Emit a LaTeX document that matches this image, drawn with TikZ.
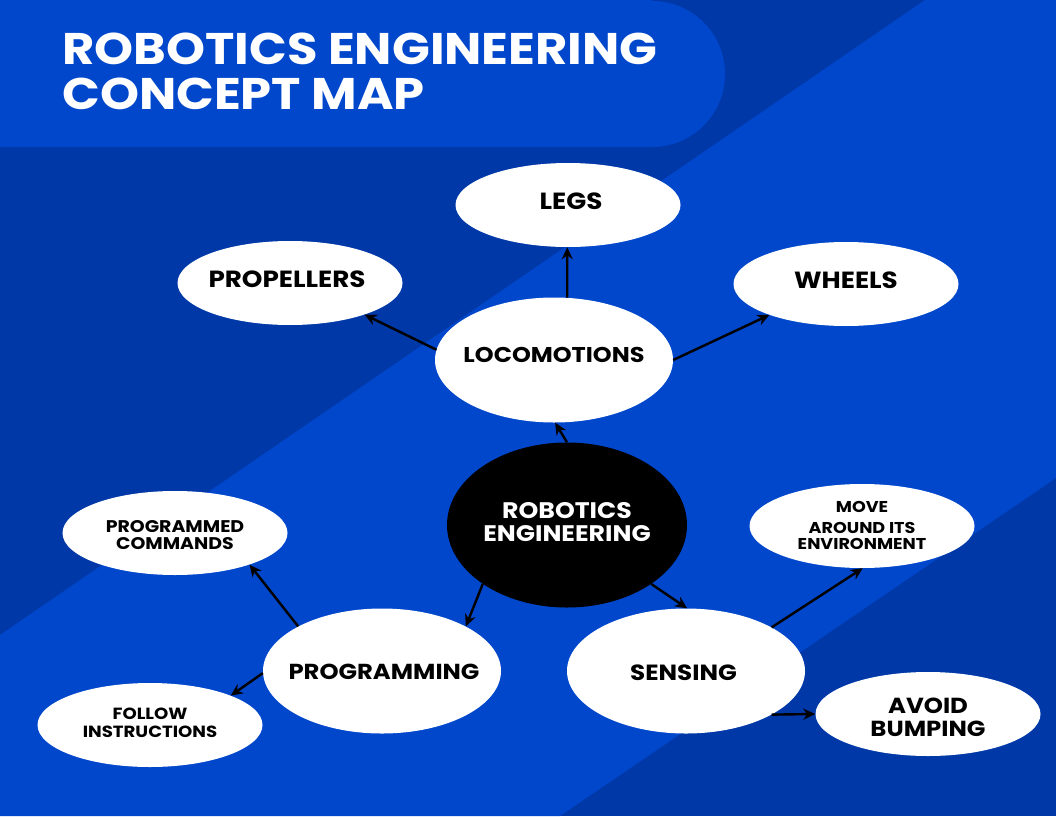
\documentclass[tikz,border=0pt]{standalone}
\usepackage{fontspec}
\setmainfont{Poppins}[FakeStretch=1.12]
\usetikzlibrary{arrows.meta,shapes.geometric}
\definecolor{bgdark}{RGB}{0,56,168}
\definecolor{bgbright}{RGB}{0,71,204}
\newcommand\nt[3]{\makebox[0pt]{\fontsize{#1}{#2}\selectfont\bfseries\begin{tabular}{@{}c@{}}#3\end{tabular}}}
\newcommand\lift[2]{\raisebox{#1}[\height][\depth]{#2}}
\begin{document}
\begin{tikzpicture}[x=1pt,y=-1pt,
  bub/.style={ellipse,fill=white,inner sep=0pt,minimum width=225pt,minimum height=84pt,text=black},
  bigbub/.style={bub,minimum width=238pt,minimum height=125pt},
  arr/.style={line width=2.4pt,draw=black,-{Stealth[length=12pt,width=11pt]}},
  ttl/.style={anchor=base west,inner sep=0pt,text=white,font=\fontsize{44.3}{44}\selectfont\bfseries}]
\clip (0,0) rectangle (1056,816);
\fill[bgdark] (0,0) rectangle (1056,816);
\fill[bgbright] (0,635) -- (925,0) -- (1056,0) -- (1056,478) -- (560,816) -- (0,816) -- cycle;
\fill[bgbright] (-5,-80) -- (652,-80) -- (652,1) arc[start angle=-90,end angle=90,radius=73] -- (-5,147) -- cycle;
\node[ttl] (t1) at (62,64) {ROBOTICS ENGINEERING};
\node[ttl] (t2) at (62,109) {CONCEPT MAP};
\node[bub] (legs) at (568,205) {\nt{23.4}{24}{\hspace*{6pt}LEGS}};
\node[bub] (prop) at (290,283) {\nt{23.4}{24}{PROPELLERS\hspace*{6pt}}};
\node[bub] (wheels) at (846,284) {\nt{23.4}{24}{WHEELS}};
\node[bigbub] (loco) at (554,360) {\lift{2pt}{\nt{21.4}{22}{LOCOMOTIONS}}};
\node[bub,fill=black,minimum width=240pt,minimum height=165pt] (robo) at (567,525) {\textcolor{white}{\nt{22.5}{23}{ROBOTICS\\ENGINEERING}}};
\node[bub] (pc) at (175,533) {\lift{-4.5pt}{\nt{16.9}{17}{PROGRAMMED\\COMMANDS}}};
\node[bub] (move) at (862,526) {\lift{-2pt}{\nt{15.7}{16}{MOVE\\[5pt]AROUND ITS\\ENVIRONMENT}}};
\node[bigbub] (prog) at (382,671) {\lift{-4pt}{\nt{21.7}{22}{\hspace*{4pt}PROGRAMMING}}};
\node[bigbub] (sens) at (686,671) {\lift{-5pt}{\nt{22}{22}{SENSING\hspace*{5pt}}}};
\node[bub] (follow) at (150,725) {\nt{16.2}{18}{FOLLOW\\INSTRUCTIONS}};
\node[bub] (avoid) at (928,714) {\lift{-6pt}{\nt{21.8}{23}{AVOID\\BUMPING}}};
\draw[arr] (loco.78) -- (legs.269);
\draw[arr] (loco.175) -- (prop.337);
\draw[arr] (loco.0) -- (wheels.202);
\draw[arr] (robo.90) -- (loco.271);
\draw[arr] (robo.215) -- (prog.28);
\draw[arr] (robo.325) -- (sens.89);
\draw[arr] (prog.152) -- (pc.337);
\draw[arr] (prog.181) -- (follow.20);
\draw[arr] (sens.27) -- (move.271);
\draw[arr] (sens.333) -- (avoid.180);
\end{tikzpicture}
\end{document}
